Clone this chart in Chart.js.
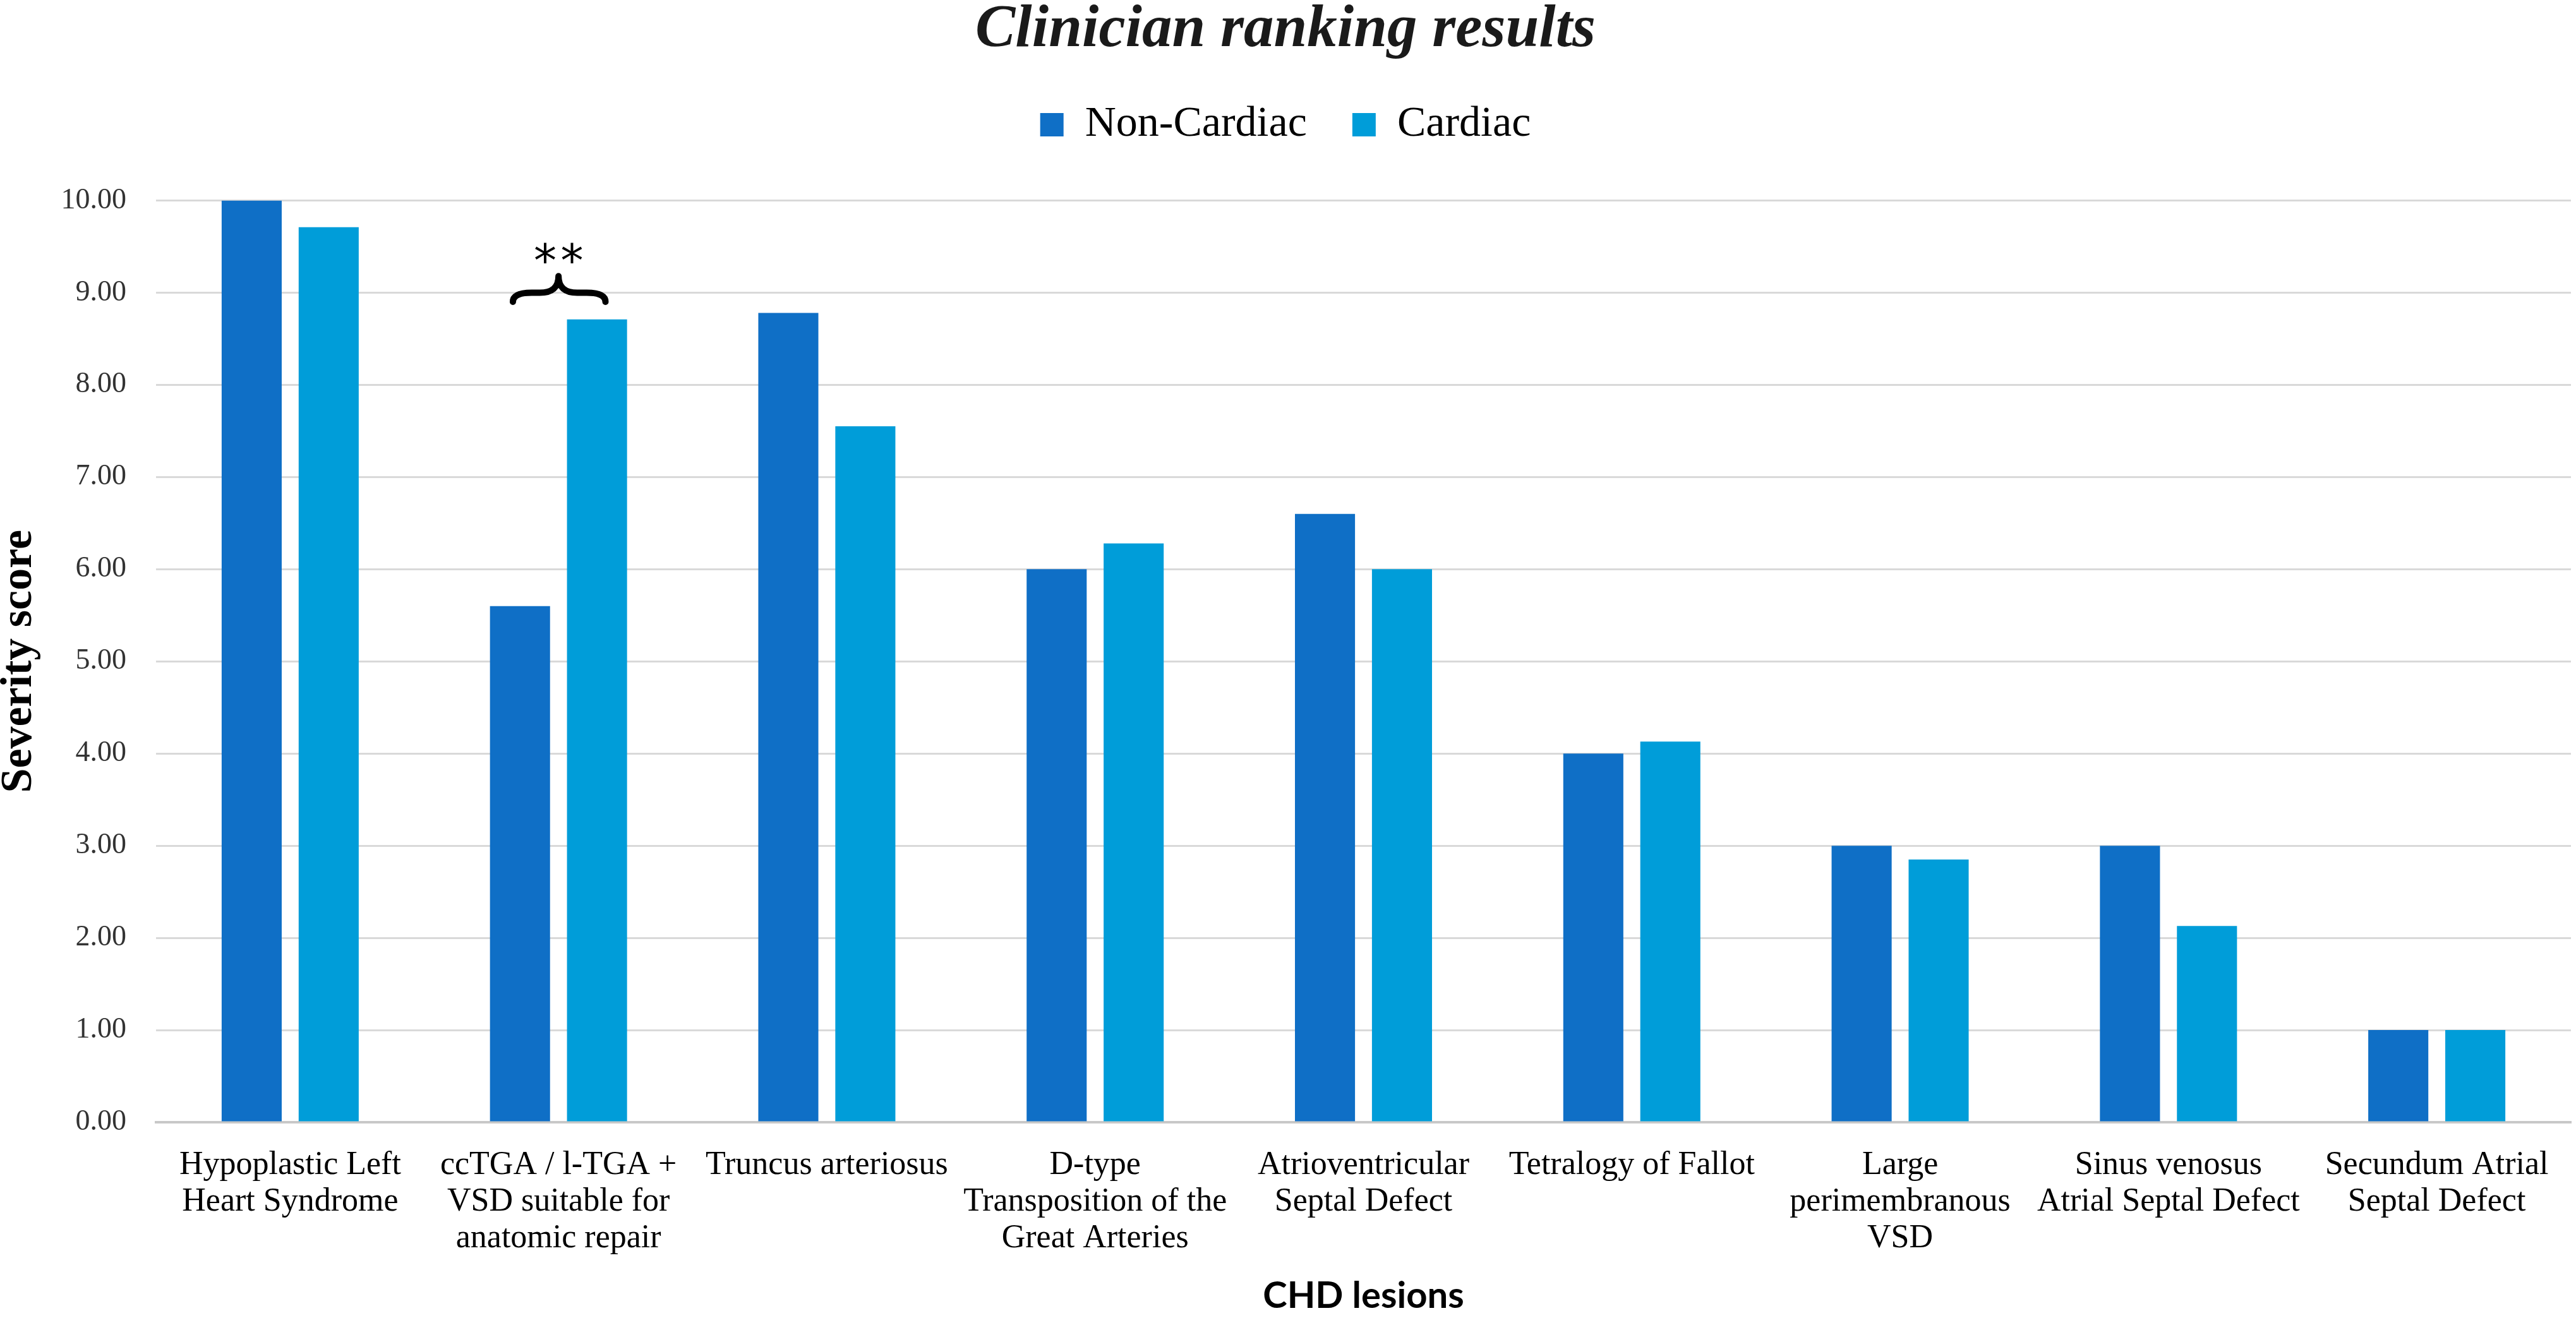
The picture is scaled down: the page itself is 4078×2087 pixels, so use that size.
<!DOCTYPE html>
<html>
<head>
<meta charset="utf-8">
<script src="https://cdn.jsdelivr.net/npm/chart.js@4.4.1/dist/chart.umd.min.js"></script>
<style>
  html, body { margin: 0; padding: 0; background: #fff; }
  #wrap { width: 4078px; height: 2087px; }
</style>
</head>
<body>
<div id="wrap"><canvas id="rankChart" width="4078" height="2087"></canvas></div>
<script>
// ── Data ─────────────────────────────────────────────────────────────────────
const lesions = [
  ['Hypoplastic Left', 'Heart Syndrome'],
  ['ccTGA / l-TGA +', 'VSD suitable for', 'anatomic repair'],
  ['Truncus arteriosus'],
  ['D-type', 'Transposition of the', 'Great Arteries'],
  ['Atrioventricular', 'Septal Defect'],
  ['Tetralogy of Fallot'],
  ['Large', 'perimembranous', 'VSD'],
  ['Sinus venosus', 'Atrial Septal Defect'],
  ['Secundum Atrial', 'Septal Defect'],
];
const nonCardiac = [10.00, 5.60, 8.78, 6.00, 6.60, 4.00, 3.00, 3.00, 1.00];
const cardiac    = [9.71, 8.71, 7.55, 6.28, 6.00, 4.13, 2.85, 2.13, 1.00];
const yTicks     = [0, 1, 2, 3, 4, 5, 6, 7, 8, 9, 10];

// significance marker: which category, at what score level
const sigIndex = 1;
const sigLevel = 9;

const SERIF = '"Liberation Serif", "Times New Roman", serif';

// ── Brace + asterisks over the significant pair ─────────────────────────────
const sigMarker = {
  id: 'sigMarker',
  afterDatasetsDraw(chart) {
    const { ctx, scales: { x, y } } = chart;
    const cx = x.getPixelForValue(sigIndex);
    const catW = x.getPixelForValue(1) - x.getPixelForValue(0);
    const unit = y.getPixelForValue(0) - y.getPixelForValue(1);
    const x0 = cx - catW * 0.17, x1 = cx + catW * 0.175;
    const yMid = y.getPixelForValue(sigLevel);
    const yEnd = yMid + unit * 0.1;
    const yTip = yMid - unit * 0.18;
    const r = catW * 0.07;
    ctx.save();
    ctx.strokeStyle = '#000';
    ctx.lineWidth = 10;
    ctx.lineCap = 'round';
    ctx.lineJoin = 'round';
    ctx.beginPath();
    ctx.moveTo(x0, yEnd);
    ctx.quadraticCurveTo(x0, yMid, x0 + r, yMid);
    ctx.lineTo(cx - r, yMid);
    ctx.quadraticCurveTo(cx, yMid, cx, yTip);
    ctx.quadraticCurveTo(cx, yMid, cx + r, yMid);
    ctx.lineTo(x1 - r, yMid);
    ctx.quadraticCurveTo(x1, yMid, x1, yEnd);
    ctx.stroke();
    ctx.fillStyle = '#000';
    ctx.font = '72px "DejaVu Sans"';
    ctx.textAlign = 'center';
    ctx.textBaseline = 'alphabetic';
    const yStar = y.getPixelForValue(sigLevel + 0.45) + 72 * 0.55;
    ctx.fillText('*', cx - catW * 0.05, yStar);
    ctx.fillText('*', cx + catW * 0.05, yStar);
    ctx.restore();
  }
};

new Chart(document.getElementById('rankChart'), {
  type: 'bar',
  data: {
    labels: lesions,
    datasets: [
      { label: 'Non-Cardiac', data: nonCardiac, backgroundColor: '#0F6FC6', borderWidth: 0 },
      { label: 'Cardiac',     data: cardiac,    backgroundColor: '#009DD9', borderWidth: 0 },
    ]
  },
  options: {
    responsive: false,
    animation: false,
    devicePixelRatio: 1,
    categoryPercentage: 0.574,
    barPercentage: 0.78,
    layout: { padding: { left: 0, right: 8, top: 0, bottom: 0 } },
    plugins: {
      title: {
        display: true,
        text: 'Clinician ranking results',
        color: '#1a1a1a',
        font: { family: SERIF, size: 95, style: 'italic', weight: 'bold', lineHeight: 0.9 },
        padding: { top: 6, bottom: 0 }
      },
      legend: {
        display: true,
        position: 'top',
        labels: {
          color: '#000',
          font: { family: SERIF, size: 68 },
          boxWidth: 37, boxHeight: 37,
          padding: 72
        }
      },
      // empty spacer between the legend and the plot
      subtitle: {
        display: true, text: ' ', weight: 500,
        font: { size: 1, lineHeight: 1 },
        padding: { top: 0, bottom: 75 }
      },
      tooltip: { enabled: false }
    },
    scales: {
      x: {
        afterFit: s => { s.height = 310; },
        grid: { display: false, drawTicks: false },
        border: { display: true, color: '#c8c8c8', width: 4 },
        ticks: {
          autoSkip: false, maxRotation: 0, minRotation: 0,
          color: '#000', padding: 39,
          font: { family: SERIF, size: 52, lineHeight: 1.12 }
        },
        title: {
          display: true, text: 'CHD lesions', color: '#000',
          font: { family: 'Lato, "Open Sans", sans-serif', size: 58, weight: 'bold', lineHeight: 1 },
          padding: { top: 0, bottom: 6 }
        }
      },
      y: {
        min: 0, max: 10,
        afterFit: s => { s.width = 247; },
        afterBuildTicks: s => { s.ticks = yTicks.map(v => ({ value: v })); },
        grid: { color: '#d9d9d9', lineWidth: 3, drawTicks: false },
        border: { display: false },
        ticks: {
          color: '#333', padding: 47,
          font: { family: SERIF, size: 46 },
          callback: v => Number(v).toFixed(2)
        },
        title: {
          display: true, text: 'Severity score', color: '#000',
          font: { family: SERIF, size: 70, weight: 'bold', lineHeight: 0.88 },
          padding: { top: 0, bottom: 0 }
        }
      }
    }
  },
  plugins: [sigMarker]
});
</script>
</body>
</html>
